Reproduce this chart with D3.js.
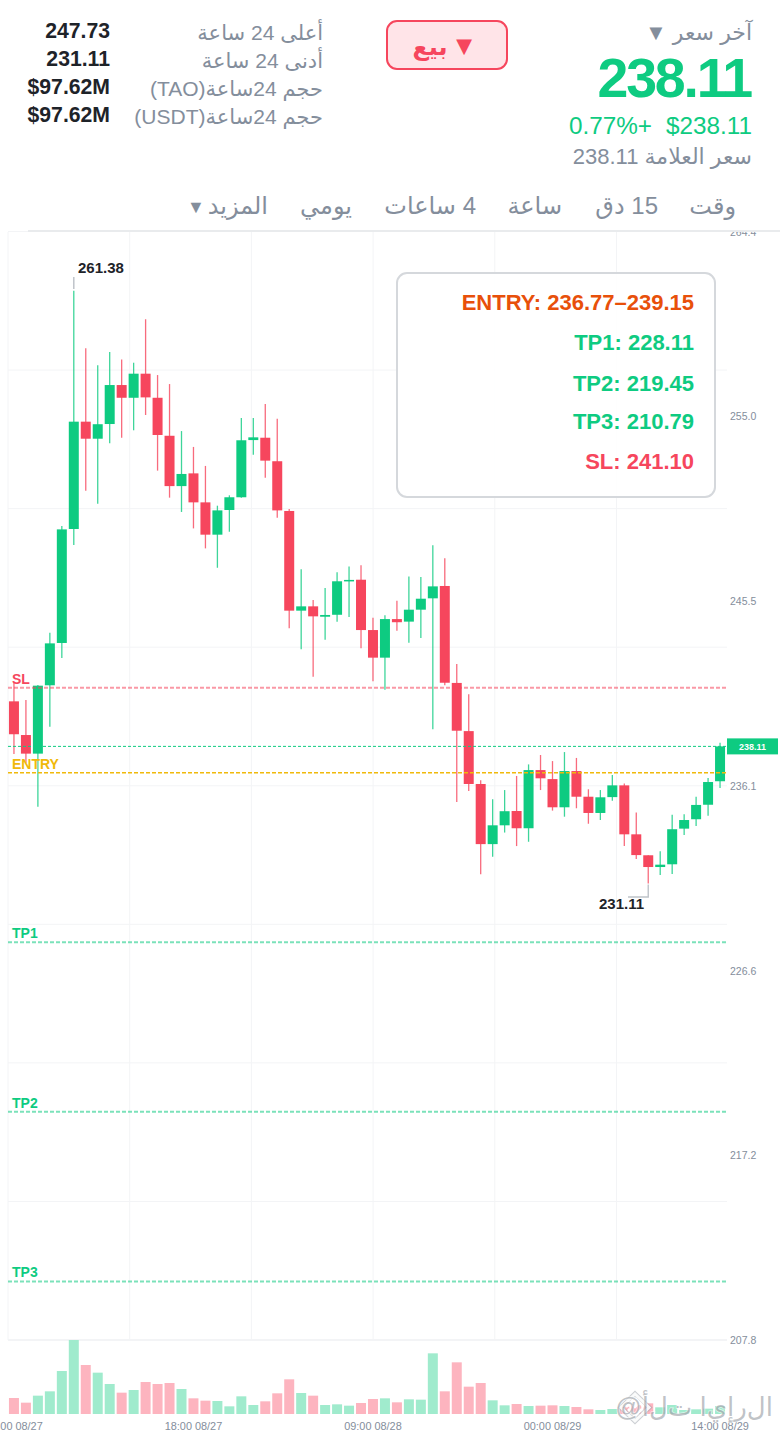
<!DOCTYPE html>
<html lang="ar"><head><meta charset="utf-8">
<script src="https://cdn.jsdelivr.net/npm/d3@7/dist/d3.min.js"></script>
<style>
html,body{margin:0;padding:0;background:#fff;width:780px;height:1432px;overflow:hidden}
svg{display:block;font-family:"Liberation Sans",Arial,"DejaVu Sans",sans-serif}
</style></head><body><svg id="c" width="780" height="1432"></svg>
<script>
const opens=[240.41,238.69,237.74,241.23,243.39,249.21,254.69,253.82,254.57,256.56,255.91,257.14,255.91,253.97,251.40,252.05,250.57,248.92,250.18,250.83,253.75,253.87,252.67,250.13,245.04,245.26,244.73,244.83,246.55,246.62,244.05,242.64,244.61,244.48,245.09,245.67,246.30,241.35,238.89,236.19,233.12,234.08,234.81,233.93,236.90,236.44,235.00,236.85,235.54,234.71,235.52,236.12,233.62,232.55,231.95,232.09,233.91,234.39,235.13,236.33];
const highs=[241.35,240.48,241.25,243.91,249.36,261.38,258.44,257.57,258.25,257.87,257.70,259.92,257.07,256.61,254.21,253.40,252.43,250.40,250.93,254.88,254.88,255.59,254.84,250.23,247.15,245.58,246.20,247.00,247.30,247.36,244.68,244.80,245.55,246.79,246.76,248.38,247.71,242.32,240.77,236.38,235.41,235.88,236.60,237.19,237.67,237.36,237.82,237.52,235.92,235.88,236.65,236.22,234.74,232.55,232.75,234.62,234.64,235.54,236.50,238.30];
const lows=[237.72,237.26,235.03,239.11,242.62,248.39,251.16,250.50,253.59,253.87,254.25,255.03,252.19,250.81,250.08,249.24,248.22,247.23,249.07,250.80,253.00,251.83,249.79,244.14,243.07,241.67,243.56,244.48,244.72,243.12,241.43,241.00,244.02,243.40,243.64,238.98,241.23,235.27,235.83,231.58,232.48,233.71,233.02,233.24,235.88,234.83,234.52,234.95,234.16,234.35,235.34,233.02,232.36,231.11,231.54,231.59,233.58,234.04,234.57,235.98];
const closes=[238.73,237.74,241.21,243.37,249.19,254.69,253.82,254.56,256.56,255.91,257.14,255.93,254.01,251.40,252.02,250.57,248.92,250.16,250.83,253.74,253.89,252.70,250.16,245.04,245.26,244.75,244.82,246.54,246.61,244.05,242.64,244.61,244.45,245.09,245.65,246.28,241.36,238.91,236.19,233.12,234.08,234.80,233.93,236.90,236.48,235.00,236.85,235.54,234.71,235.51,236.12,233.62,232.56,231.95,232.07,233.88,234.35,235.12,236.29,238.11];
const volumes=[48,34,55,68,129,222,147,124,90,64,72,96,90,93,75,47,40,39,23,53,27,38,62,104,63,55,27,29,25,33,45,47,35,44,43,182,68,155,82,93,41,26,30,24,25,26,24,21,14,12,15,22,27,32,20,27,12,14,16,24];
const priceTicks=["264.4","255.0","245.5","236.1","226.6","217.2","207.8"];
const timeLabels=[[0,"03:00 08/27"],[15,"18:00 08/27"],[30,"09:00 08/28"],[45,"00:00 08/29"],[59,"14:00 08/29"]];
const levelNames=["SL","ENTRY","TP1","TP2","TP3"];
const levelPrices=[241.10,236.77,228.11,219.45,210.79];
const lastPrice=238.11;
const hiLabel=261.38, loLabel=231.11;
const boxLines=["ENTRY: 236.77–239.15","TP1: 228.11","TP2: 219.45","TP3: 210.79","SL: 241.10"];
const statLabels=["أعلى 24 ساعة","أدنى 24 ساعة","حجم 24ساعة(TAO)","حجم 24ساعة(USDT)"];
const statValues=["247.73","231.11","$97.62M","$97.62M"];
const tabs=["وقت","15 دق","ساعة","4 ساعات","يومي","المزيد"];

const GREEN="#0ecb81",RED="#f6465d",GRAY="#848e9c",DARK="#1e2329",AMBER="#f0b90b";
const svg=d3.select("#c");
const L=8,R=726;
const x=d3.scaleBand().domain(d3.range(opens.length)).range([L,R]).paddingInner(0.165).paddingOuter(0.08);
const cx=i=>x(i)+x.bandwidth()/2;
const y=d3.scaleLinear().domain([207.8,264.4]).range([1340,231.5]);
const yv=d3.scaleLinear().domain([0,d3.max(volumes)]).range([1414,1340]);

const T=(s,xp,yp,size,fill,anchor="end",weight=400,extra={})=>{
  const t=svg.append("text").attr("x",xp).attr("y",yp).attr("font-size",size).attr("fill",fill).attr("text-anchor",anchor).attr("font-weight",weight).text(s);
  Object.entries(extra).forEach(([k,v])=>t.attr(k,v));return t;};

// grid
const g=svg.append("g").attr("stroke","#f3f4f6").attr("fill","none");
d3.range(9).forEach(i=>{const v=207.8+i*(264.4-207.8)/8;
  g.append("line").attr("x1",L).attr("x2",R+1).attr("y1",y(v)).attr("y2",y(v)).attr("stroke-width",i==0?2:1);});
d3.range(6).forEach(i=>{const gx=L+i*121.7;
  g.append("line").attr("x1",gx).attr("x2",gx).attr("y1",232).attr("y2",1340);});

// price axis labels sit evenly spaced down the price range
priceTicks.forEach((p,i)=>T(p,730,y(264.4-i*(264.4-207.8)/6)+4,10.5,GRAY,"start"));
svg.append("rect").attr("x",727).attr("y",215).attr("width",53).attr("height",16).attr("fill","#fff");

// header
T("آخر سعر ▼",752,40,22,GRAY,"end",400,{direction:"rtl","text-anchor":"start"});
T("238.11",751,97,55.5,GREEN,"end",700,{"letter-spacing":-2.2});
T("$238.11",752,134,24.3,GREEN);
T("0.77%+",652,134,24.3,GREEN);
T("سعر العلامة 238.11",752,164,22,GRAY,"start",400,{direction:"rtl"});
statLabels.forEach((s,i)=>{
  T(s,323,[40,68,96,124][i],21,GRAY,"start",400,{direction:"rtl"});
  T(statValues[i],110,[38,66,94,122][i],21.2,DARK,"end",700);
});
svg.append("rect").attr("x",387).attr("y",21).attr("width",120).attr("height",48).attr("rx",10).attr("fill","#ffe4e8").attr("stroke",RED).attr("stroke-width",2);
T("▼",464,55,27,RED,"middle",700);
T("بيع",430,55,24,RED,"middle",700);
const tabX=[736,658,562,476,352,268];
tabs.forEach((s,i)=>T(s,tabX[i],214,24,GRAY,"start",400,{direction:"rtl"}));
T("▼",196,213,18,GRAY,"middle");
svg.append("rect").attr("x",28).attr("y",230).attr("width",752).attr("height",2).attr("fill","#e9ebed");

// volume
svg.append("g").selectAll("rect").data(volumes).join("rect")
 .attr("x",(d,i)=>x(i)).attr("width",x.bandwidth()).attr("y",d=>yv(d)).attr("height",d=>1414-yv(d))
 .attr("fill",(d,i)=>closes[i]>=opens[i]?"#a0ebcd":"#fdb4bf");

// candles
const cg=svg.append("g").selectAll("g").data(opens).join("g").attr("fill",(d,i)=>closes[i]>=opens[i]?GREEN:RED).attr("stroke",(d,i)=>closes[i]>=opens[i]?GREEN:RED);
cg.append("line").attr("x1",(d,i)=>cx(i)).attr("x2",(d,i)=>cx(i)).attr("y1",(d,i)=>y(highs[i])).attr("y2",(d,i)=>y(lows[i])).attr("stroke-width",1.3).attr("stroke-opacity",.8);
cg.append("rect").attr("stroke","none").attr("x",(d,i)=>x(i)).attr("width",x.bandwidth())
 .attr("y",(d,i)=>y(Math.max(opens[i],closes[i]))).attr("height",(d,i)=>Math.max(1.5,Math.abs(y(opens[i])-y(closes[i]))));

// levels
const lvlColor={SL:RED,ENTRY:AMBER,TP1:GREEN,TP2:GREEN,TP3:GREEN};
levelNames.forEach((n,i)=>{
  const yy=y(levelPrices[i]),c=lvlColor[n],e=n=="ENTRY";
  svg.append("line").attr("x1",L).attr("x2",R+1).attr("y1",yy).attr("y2",yy).attr("stroke",c)
    .attr("stroke-width",e?1.5:2).attr("stroke-opacity",e?1:.55).attr("stroke-dasharray","4 2");
  T(n,12,yy-4,14,c,"start",700);
});
svg.append("line").attr("x1",L).attr("x2",R+1).attr("y1",y(lastPrice)).attr("y2",y(lastPrice)).attr("stroke",GREEN).attr("stroke-width",1).attr("stroke-dasharray","3 2");
svg.append("rect").attr("x",727).attr("y",y(lastPrice)-8).attr("width",51).attr("height",16).attr("fill",GREEN);
T(lastPrice.toFixed(2),752.5,y(lastPrice)+3.5,9,"#fff","middle",700);

// time labels
timeLabels.forEach(([i,s])=>T(s,cx(i),1430,10.9,GRAY,"middle"));

// high/low labels
const hx=cx(5);
svg.append("line").attr("x1",hx).attr("x2",hx).attr("y1",277).attr("y2",289).attr("stroke","#bfc3c9").attr("stroke-width",1.5);
T(hiLabel.toFixed(2),78,273,15,DARK,"start",700);
const lx=cx(53);
svg.append("path").attr("fill","none").attr("stroke","#bfc3c9").attr("stroke-width",1.4).attr("d",`M${lx},${y(loLabel)+1}V897H628`);
T(loLabel.toFixed(2),621.5,909,15,DARK,"middle",700);

// box
svg.append("rect").attr("x",397).attr("y",273).attr("width",318).attr("height",224).attr("rx",10).attr("fill","#fff").attr("fill-opacity",.9).attr("stroke","#d5d8dc").attr("stroke-width",2);
const boxC=["#e8500a",GREEN,GREEN,GREEN,RED];
boxLines.forEach((s,i)=>T(s,694,[310,350,391,429,469][i],22,boxC[i],"end",700));

// watermark
const wm=svg.append("g");
const dia="M635,1394l14,13.5l-14,13.5l-14,-13.5z";
wm.append("path").attr("d",dia).attr("fill","none").attr("stroke","#9aa0a8").attr("stroke-opacity",.5).attr("stroke-width",5);
wm.append("path").attr("d",dia).attr("fill","none").attr("stroke","#fff").attr("stroke-opacity",.9).attr("stroke-width",3);
wm.append("path").attr("d","M626,1407l4.5,-4.5l4.5,4.5l4.5,-4.5l4.5,4.5M635,1398l-4,4M635,1398l4,4M628,1409l7,7l7,-7").attr("fill","none").attr("stroke","#fff").attr("stroke-width",2.5);
wm.append("text").attr("x",773).attr("y",1416).attr("font-size",26).attr("fill","#8a8f97").attr("fill-opacity",.55)
  .attr("stroke","#fff").attr("stroke-opacity",.6).attr("stroke-width",1.5).attr("paint-order","stroke")
  .attr("direction","rtl").attr("text-anchor","start").attr("letter-spacing",2.2)
  .text("ا\u200cل\u200cر\u200cإ\u200cي\u200cا \u200cت\u200cل\u200cأ@");
</script></body></html>
